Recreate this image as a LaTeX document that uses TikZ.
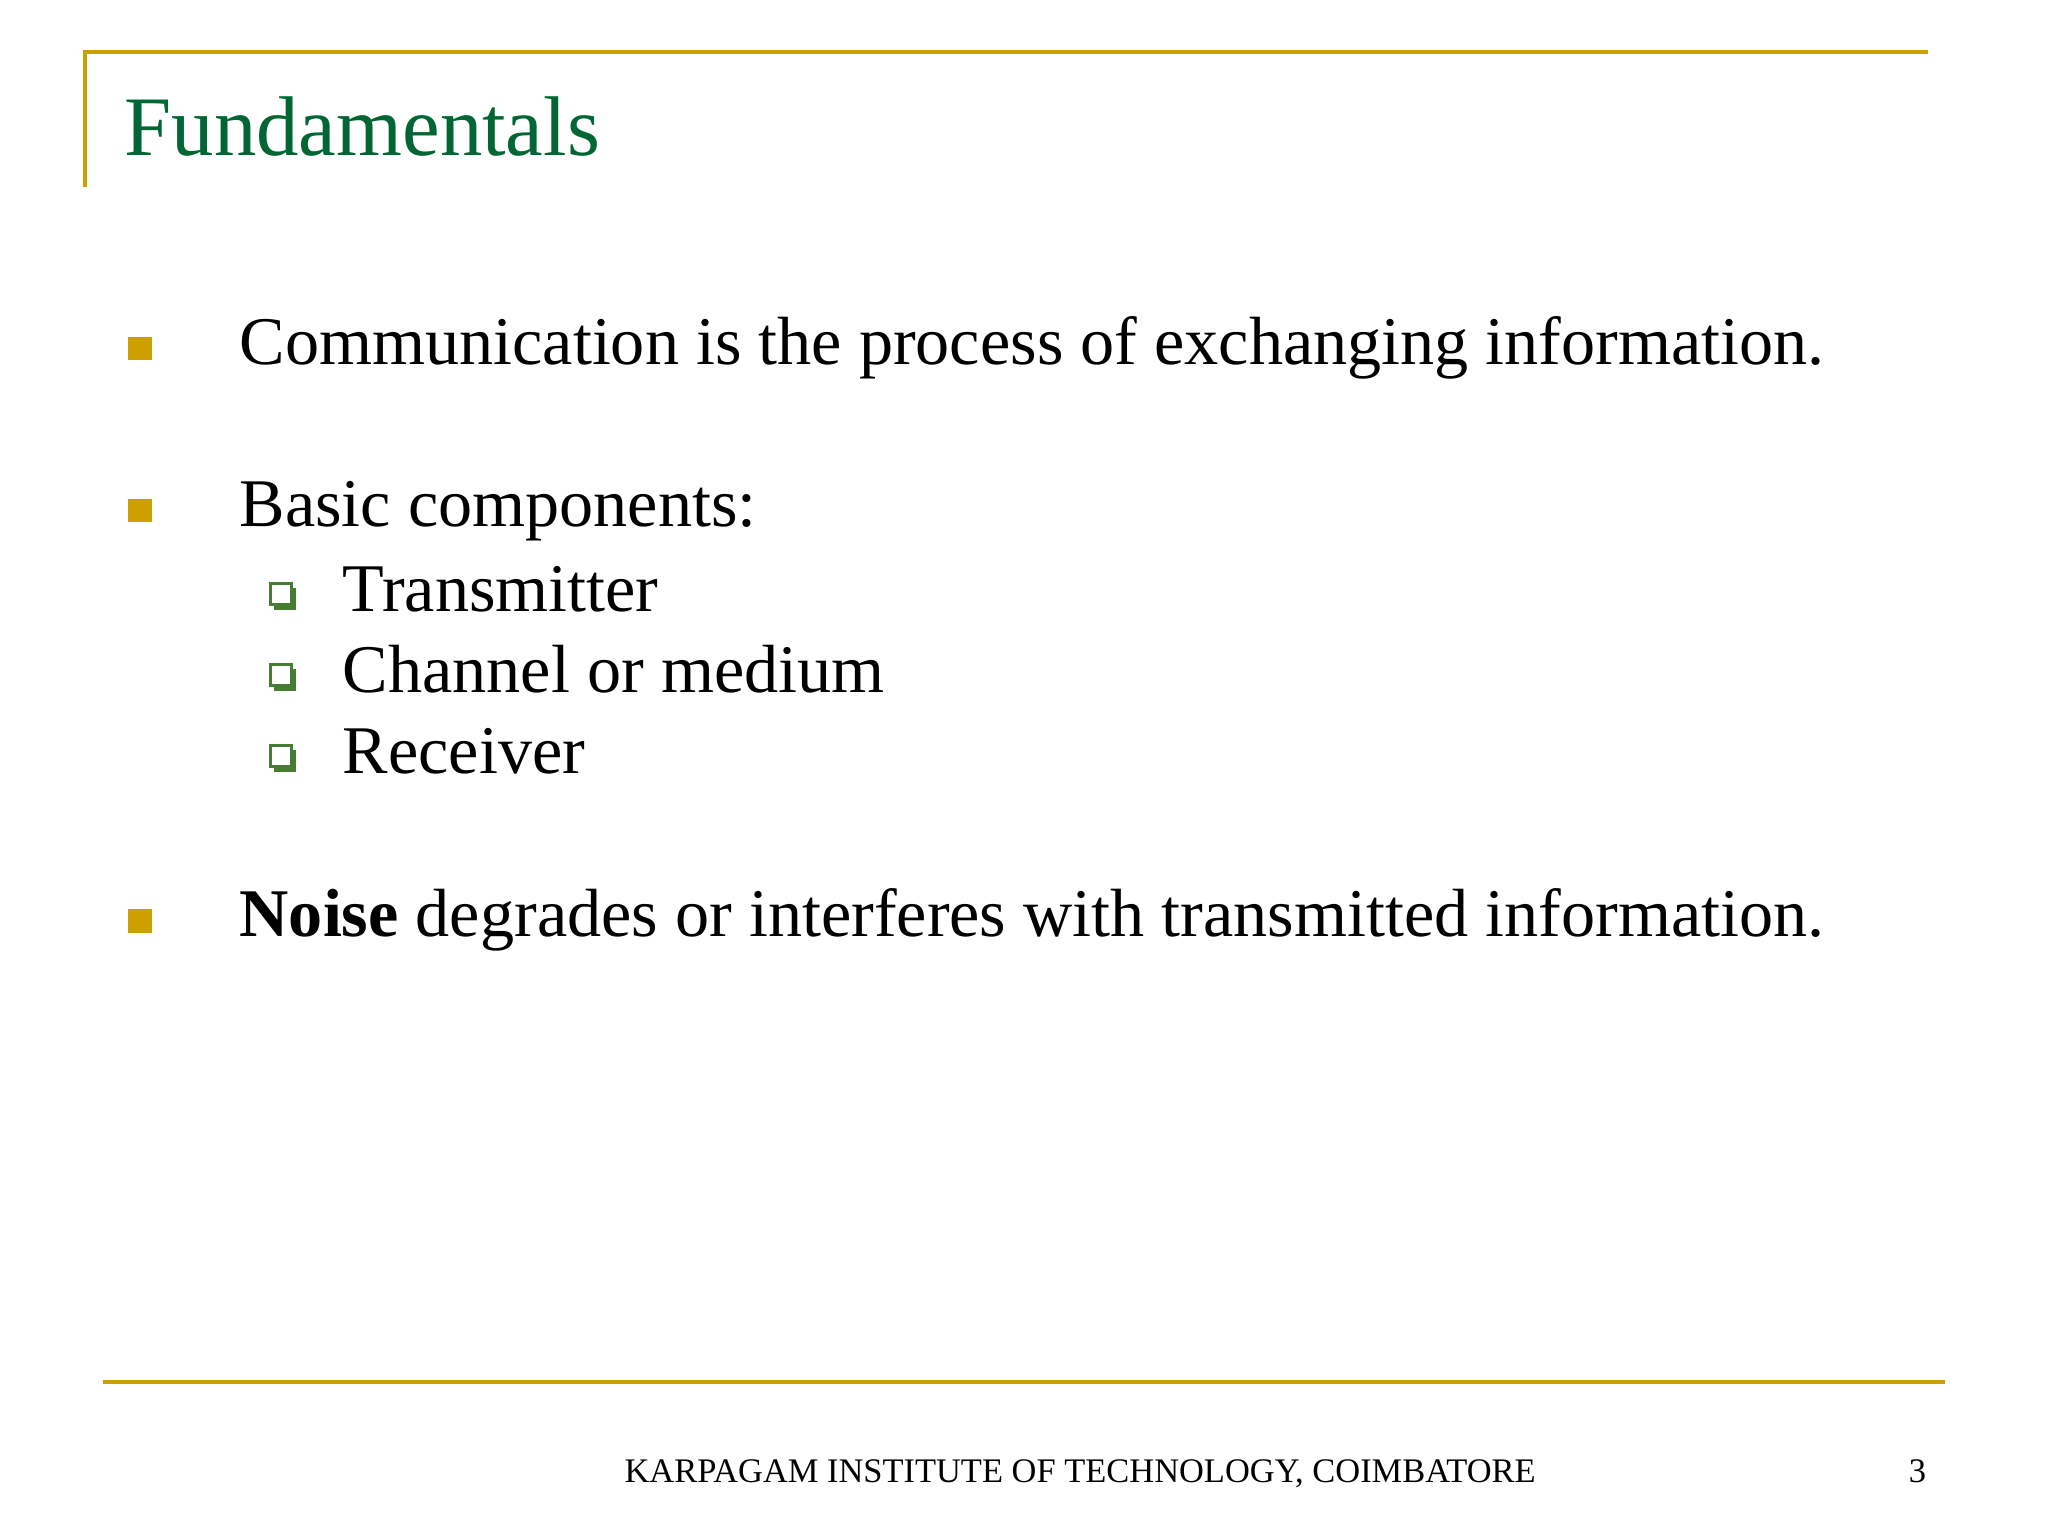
\documentclass[tikz,border=0pt]{standalone}
\usepackage{fontspec}
\setmainfont{Liberation Serif}
\definecolor{gold}{RGB}{204,160,0}
\definecolor{titlegreen}{RGB}{0,102,51}
\definecolor{subgreen}{RGB}{70,125,50}
\begin{document}
\begin{tikzpicture}[x=0.01306cm,y=-0.01306cm,
  body/.style={anchor=base west,inner sep=0,font=\fontsize{19.4pt}{23pt}\selectfont},
  goldline/.style={draw=gold,line width=1.2pt},
  bul/.style={fill=gold},
  sub/.style={draw=subgreen,line width=0.8pt,fill=white}]
\useasboundingbox[fill=white] (0,0) rectangle (1568,1176);
\draw[goldline] (65,143) -- (65,40) -- (1476,40);
\draw[goldline] (79,1058) -- (1489,1058);
\node[anchor=base west,inner sep=0,text=titlegreen,font=\fontsize{24.1pt}{28pt}\selectfont] (title) at (95,119) {Fundamentals};
% bullets
\fill[bul] (98,258) rectangle (116,276);
\fill[bul] (98,382) rectangle (116,400);
\fill[bul] (98,696) rectangle (116,714);
\node[body] (t1) at (183,279) {Communication is the process of exchanging information.};
\node[body] (t2) at (183,403) {Basic components:};
\node[body] (t3) at (183,717) {\textbf{Noise} degrades or interferes with transmitted information.};
% sub bullets
\foreach \yy/\txt [count=\i] in {465/Transmitter,527/Channel or medium,589/Receiver}{
  \fill[subgreen] (210,\yy-15) rectangle (227,\yy+2);
  \draw[sub] (207,\yy-18) rectangle (223,\yy-2);
  \node[body] (s\i) at (262,\yy+3) {\txt};
}
\node[anchor=base,inner sep=0,font=\fontsize{9.8pt}{12pt}\selectfont] (foot) at (827,1135) {KARPAGAM INSTITUTE OF TECHNOLOGY, COIMBATORE};
\node[anchor=base,inner sep=0,font=\fontsize{9.8pt}{12pt}\selectfont] (num) at (1468,1135) {3};
\end{tikzpicture}
\end{document}
